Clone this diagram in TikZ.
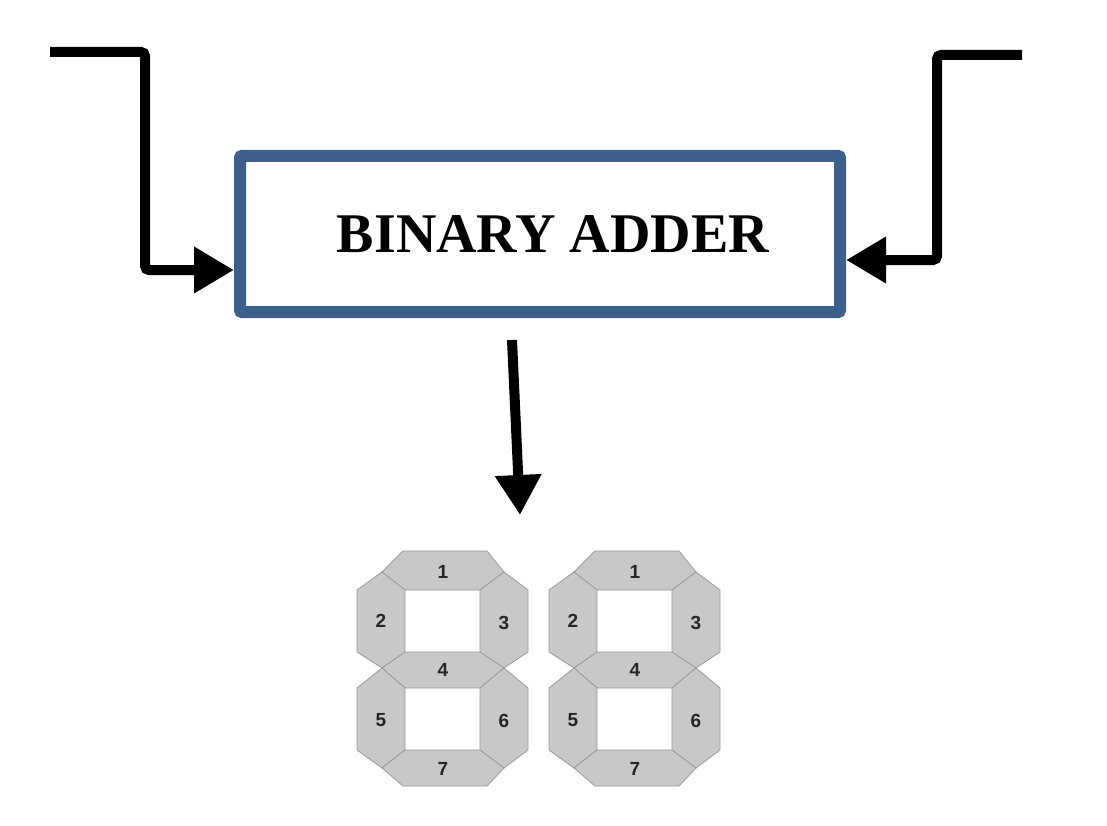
\documentclass[tikz,border=0pt]{standalone}
\usepackage{fontspec}
\setmainfont{Liberation Serif}
\newfontfamily\segfont{Liberation Sans}
\usetikzlibrary{arrows.meta}
\definecolor{boxblue}{HTML}{3D5F8C}
\definecolor{seggray}{HTML}{C8C8C8}
\definecolor{segedge}{HTML}{9A9A9A}
\tikzset{
  wire/.style={line width=10pt,-{Triangle[length=40pt,width=44pt]},rounded corners=4pt},
  seg/.style={fill=seggray,draw=segedge,line width=0.8pt},
  seglabel/.style={font=\segfont\bfseries\fontsize{19}{19}\selectfont,text=black!85},
}
\newcommand{\sevenseg}[1]{%
\begin{scope}[xshift=#1]
\draw[seg] (382,572)--(403,551)--(487,551)--(504,572)--(480,590)--(405,590)--cycle;
\draw[seg] (357,590)--(382,572)--(405,590)--(405,652)--(382,668)--(357,652)--cycle;
\draw[seg] (480,590)--(504,572)--(528,590)--(528,652)--(504,668)--(480,652)--cycle;
\draw[seg] (382,668)--(405,652)--(480,652)--(504,668)--(480,688)--(405,688)--cycle;
\draw[seg] (357,688)--(382,668)--(405,688)--(405,750)--(382,768)--(357,750)--cycle;
\draw[seg] (480,688)--(504,668)--(528,688)--(528,750)--(504,768)--(480,750)--cycle;
\draw[seg] (382,768)--(405,750)--(480,750)--(504,768)--(487,786)--(403,786)--cycle;
\node[seglabel] (s1#1) at (443,572) {1};
\node[seglabel] (s2#1) at (381,621) {2};
\node[seglabel] (s3#1) at (504,623) {3};
\node[seglabel] (s4#1) at (443,670) {4};
\node[seglabel] (s5#1) at (381,720) {5};
\node[seglabel] (s6#1) at (504,721) {6};
\node[seglabel] (s7#1) at (443,769) {7};
\end{scope}}
\begin{document}
\begin{tikzpicture}[x=1pt,y=-1pt]
\useasboundingbox (0,0) rectangle (1107,826);
\node[draw=boxblue,line width=12pt,fill=white,minimum width=600pt,minimum height=156pt,inner sep=0pt,rounded corners=2pt,
  font=\bfseries\fontsize{56}{56}\selectfont] (adder) at (540,234) {\hspace*{26pt}BINARY ADDER};
\coordinate (inL) at (50,52);
\coordinate (inR) at (1022,55);
\coordinate (outS) at (512,340);
\coordinate (outE) at (520,515);
\draw[wire] (inL) -- (145,52) -- (145,270) -- (adder.west|-0,270);
\draw[wire] (inR) -- (937,55) -- (937,260) -- (adder.east|-0,260);
\draw[wire] (outS) -- (outE);
\sevenseg{0}
\sevenseg{192}
\end{tikzpicture}
\end{document}
